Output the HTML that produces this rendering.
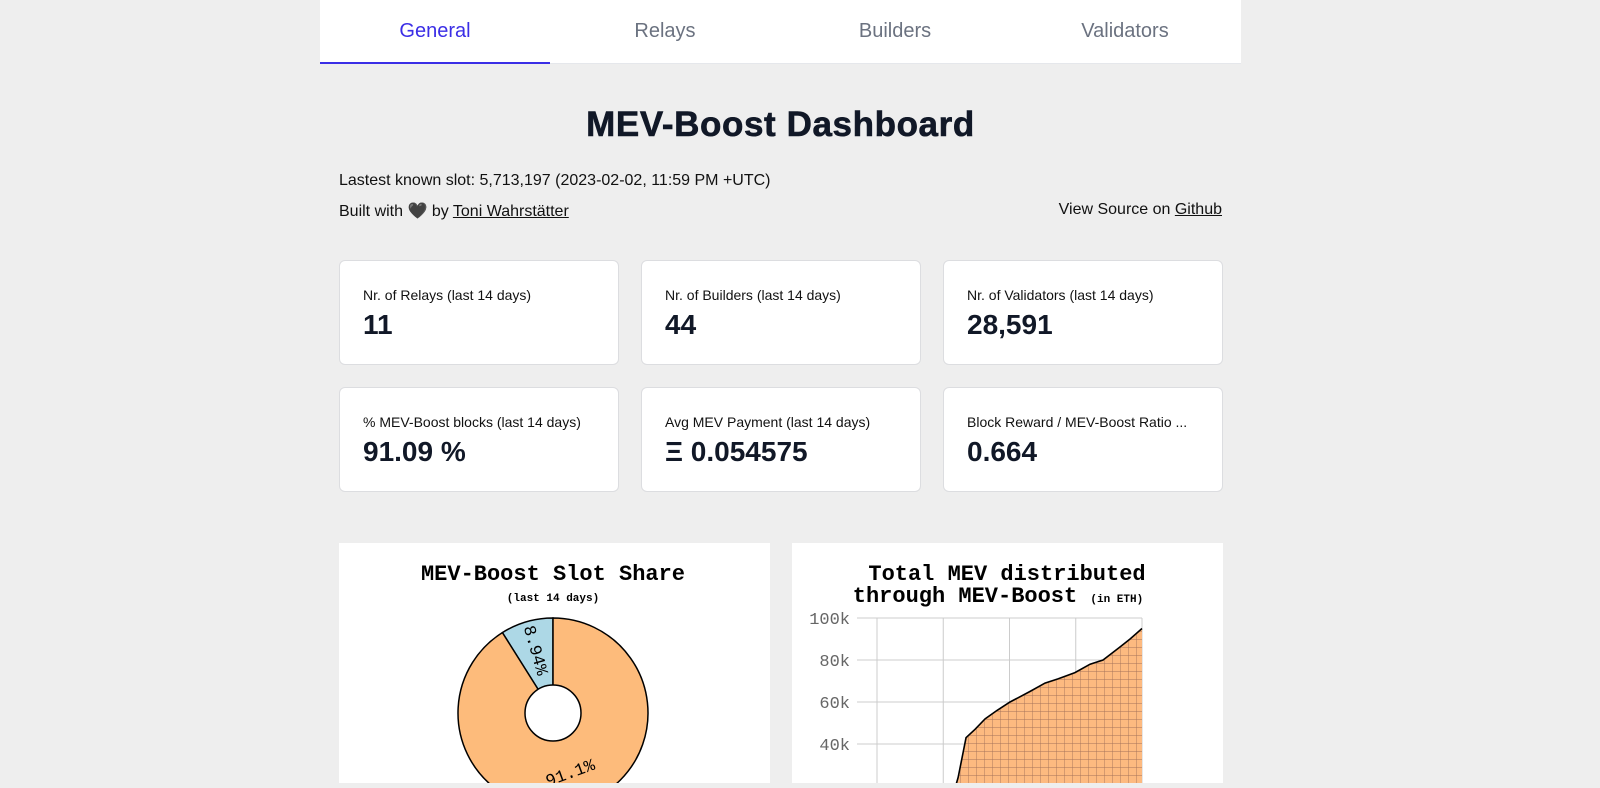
<!DOCTYPE html>
<html><head><meta charset="utf-8">
<style>
*{box-sizing:border-box;margin:0;padding:0}
body{width:1600px;height:777px;overflow:hidden;background:#eeeeee;font-family:"Liberation Sans",sans-serif;color:#111827;position:relative}
.tabs{position:absolute;left:320px;top:0;width:921px;height:64px;background:#fff;border-bottom:1px solid #e5e7eb;display:flex}
.tab{width:230px;text-align:center;line-height:62px;font-size:20px;color:#6b7280;position:relative}
.tab.active{color:#3b2ee6}
.tab.active:after{content:"";position:absolute;left:0;right:0;bottom:-1px;height:2px;background:#3b2ee6}
h1{position:absolute;left:320px;width:921px;top:105px;text-align:center;font-size:35px;font-weight:bold;letter-spacing:0.6px;color:#111827;-webkit-text-stroke:0.6px #111827}
.info{position:absolute;font-size:16px;color:#111}
.info a{color:#111;text-decoration:underline}
.card{position:absolute;width:280px;height:105px;background:#fff;border:1px solid #dcdde0;border-radius:6px}
.card .l{position:absolute;left:23px;top:26px;font-size:14px;color:#111}
.card .v{position:absolute;left:23px;top:48px;font-size:28px;font-weight:bold;color:#111827}
.chart{position:absolute;top:543px;width:431px;height:240px;background:#fff}
</style></head><body>
<div class="tabs">
<div class="tab active">General</div>
<div class="tab">Relays</div>
<div class="tab">Builders</div>
<div class="tab">Validators</div>
</div>
<h1>MEV-Boost Dashboard</h1>
<div class="info" style="left:339px;top:172px">Lastest known slot: 5,713,197 (2023-02-02, 11:59 PM +UTC)</div>
<div class="info" style="left:339px;top:201px">Built with 🖤 by <a>Toni Wahrstätter</a></div>
<div class="info" style="right:378px;top:201px">View Source on <a>Github</a></div>

<div class="card" style="left:339px;top:260px"><div class="l">Nr. of Relays (last 14 days)</div><div class="v">11</div></div>
<div class="card" style="left:641px;top:260px"><div class="l">Nr. of Builders (last 14 days)</div><div class="v">44</div></div>
<div class="card" style="left:943px;top:260px"><div class="l">Nr. of Validators (last 14 days)</div><div class="v">28,591</div></div>
<div class="card" style="left:339px;top:387px"><div class="l">% MEV-Boost blocks (last 14 days)</div><div class="v">91.09 %</div></div>
<div class="card" style="left:641px;top:387px"><div class="l">Avg MEV Payment (last 14 days)</div><div class="v">Ξ 0.054575</div></div>
<div class="card" style="left:943px;top:387px"><div class="l">Block Reward / MEV-Boost Ratio ...</div><div class="v">0.664</div></div>

<div class="chart" style="left:339px">
<svg id="pie" width="431" height="240" font-family="Liberation Mono, monospace">
<text x="214" y="37" text-anchor="middle" font-size="22" font-weight="bold">MEV-Boost Slot Share</text>
<text x="214" y="58" text-anchor="middle" font-size="11" font-weight="bold">(last 14 days)</text>
</svg></div>

<div class="chart" style="left:792px">
<svg id="area" width="431" height="240" font-family="Liberation Mono, monospace">
<defs><pattern id="hatch" width="8" height="8" patternUnits="userSpaceOnUse"><rect width="8" height="8" fill="#fdba80"/><path d="M0 0H8M0 0V8" stroke="#a5735a" stroke-width="0.9"/></pattern></defs>
<text x="215" y="37" text-anchor="middle" font-size="22" font-weight="bold">Total MEV distributed</text>
<text x="206" y="59" text-anchor="middle" font-size="22" font-weight="bold">through MEV-Boost <tspan font-size="11">(in ETH)</tspan></text>
</svg></div>

<script>
const pieLabels=["Non-MEV-Boost","MEV-Boost"];
const pieValues=[8.94,91.06];
const pieColors=["#add8e6","#fdbb7b"];

const xDays=[0,25.7,27.5,29,30.6,32.5,33.6,37,40.8,45.3,50.2,57.7,63.4,68.3,74.7,80.4,85.3,91.5,95.5,100];
const mevTotal=[0,0,10000,17000,24000,36000,43000,47000,52000,56000,60000,65000,69000,71000,74000,78000,80000,86000,90000,95000];
const yTicks=[40000,60000,80000,100000];
const yTickLabels=["40k","60k","80k","100k"];
const xGrid=[0,25,50,75,100];

const NS="http://www.w3.org/2000/svg";
function mk(p,t,a){const e=document.createElementNS(NS,t);for(const k in a)e.setAttribute(k,a[k]);p.appendChild(e);return e;}

(function(){
const svg=document.getElementById('pie');
const cx=214,cy=170,R=95,r=28;
const tot=pieValues.reduce((a,b)=>a+b,0);
let start=0;
pieValues.forEach((v,i)=>{
 const a0=-start/tot*2*Math.PI, a1=-(start+v)/tot*2*Math.PI;
 const p=(a)=>[cx+R*Math.sin(a),cy-R*Math.cos(a)];
 const [x0,y0]=p(a0),[x1,y1]=p(a1);
 const large=v/tot>0.5?1:0;
 const path=mk(svg,'path',{d:`M${cx} ${cy}L${x0} ${y0}A${R} ${R} 0 ${large} 0 ${x1} ${y1}Z`,fill:pieColors[i],stroke:'#000','stroke-width':1.5});
 
 
 const am=(a0+a1)/2, lr=i==0?65:63;
 const lx=cx+lr*Math.sin(am), ly=cy-lr*Math.cos(am);
 const rot=i==0?90+am*180/Math.PI:-20;
 const t=mk(svg,'text',{x:lx,y:ly,'text-anchor':'middle','dominant-baseline':'middle','font-size':17,transform:`rotate(${rot} ${lx} ${ly})`});
 t.textContent=(i==0?v.toFixed(2):v.toFixed(1))+'%';
 
 
 start+=v;
});
const h=mk(svg,'circle',{cx:cx,cy:cy,r:r,fill:'#fff',stroke:'#000','stroke-width':1.5});


})();

(function(){
const svg=document.getElementById('area');
const X0=85,X1=350,Y100=75,px20=42;
const xs=d=>X0+(d-0)/100*(X1-X0);
const ys=v=>Y100+(100000-v)/20000*px20;
xGrid.forEach(d=>{const l=mk(svg,'line',{x1:xs(d),x2:xs(d),y1:Y100,y2:240,stroke:'#ccc','stroke-width':1});
 });
yTicks.forEach((v,i)=>{
 const l=mk(svg,'line',{x1:X0-20,x2:X1,y1:ys(v),y2:ys(v),stroke:'#ccc','stroke-width':1});
 
 const t=mk(svg,'text',{x:X0-27,y:ys(v)+6,'text-anchor':'end','font-size':17,fill:'#666'});
 t.textContent=yTickLabels[i];
 
});
let d='M'+xs(xDays[0])+' '+ys(0);
xDays.forEach((x,i)=>{d+='L'+xs(x)+' '+ys(mevTotal[i]);});
d+='L'+xs(xDays[xDays.length-1])+' '+ys(0)+'Z';
const a=mk(svg,'path',{d:d,fill:'url(#hatch)'});

let ld='';
xDays.forEach((x,i)=>{ld+=(i?'L':'M')+xs(x)+' '+ys(mevTotal[i]);});
const l=mk(svg,'path',{d:ld,fill:'none',stroke:'#000','stroke-width':1.6});

})();
</script>
</body></html>
